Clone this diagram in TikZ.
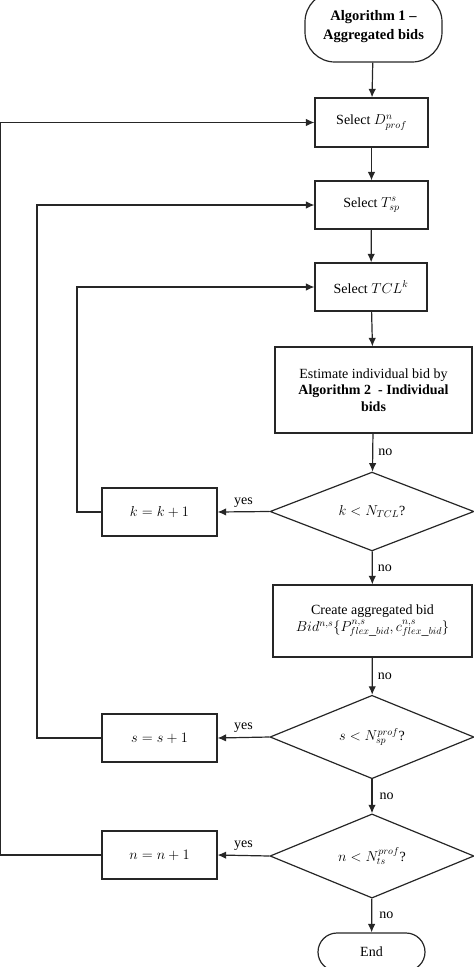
\documentclass[tikz,border=0pt]{standalone}
\usepackage{fontspec}
\setmainfont{Liberation Serif}
\usetikzlibrary{shapes.geometric,arrows.meta}
\begin{document}
\begin{tikzpicture}[x=1pt,y=-1pt,
  line width=1.2pt, draw=black!85,
  every node/.style={font=\fontsize{14}{16.5}\selectfont},
  box/.style={draw, rectangle, inner sep=2pt, align=center},
  term/.style={draw, rectangle, align=center, inner sep=2pt},
  dia/.style={draw, diamond, inner sep=0pt, minimum width=204pt},
  arr/.style={-{Latex[length=8.5pt,width=7.5pt]}},
  lbl/.style={inner sep=1pt, font=\fontsize{14}{16}\selectfont}
]
\useasboundingbox (0,0) rectangle (474,967);
% nodes
\node[term, rounded corners=30pt, minimum width=137pt, minimum height=70pt, font=\bfseries\fontsize{14.5}{19}\selectfont] (start) at (373.5,27) {Algorithm 1 --\\Aggregated bids};
\node[box, minimum width=113pt, minimum height=49pt] (d) at (371.5,122.5) {Select $D^{n}_{prof}$};
\node[box, minimum width=113pt, minimum height=48pt] (t) at (371.5,205) {Select $T^{s}_{sp}$};
\node[box, minimum width=112pt, minimum height=48pt] (tcl) at (371,287) {Select $TCL^{k}$};
\node[box, minimum width=197pt, minimum height=86pt] (est) at (373.5,390) {Estimate individual bid by\\\textbf{Algorithm 2 \ - Individual}\\\textbf{bids}};
\node[dia, minimum height=78pt] (kd) at (372,511.5) {$k < N_{TCL}$?};
\node[box, minimum width=115pt, minimum height=48pt] (kb) at (159.5,512) {$k = k + 1$};
\node[box, minimum width=199pt, minimum height=72pt] (agg) at (372.5,621) {Create aggregated bid\\$Bid^{n,s}\{P^{n,s}_{flex\_bid}, c^{n,s}_{flex\_bid}\}$};
\node[dia, minimum height=76pt] (sd) at (372,737) {$s < N^{prof}_{sp}$?};
\node[box, minimum width=115pt, minimum height=48pt] (sb) at (159.5,738) {$s = s + 1$};
\node[dia, minimum height=78pt] (nd) at (372,856) {$n < N^{prof}_{ts}$?};
\node[box, minimum width=115pt, minimum height=48pt] (nb) at (159.5,855) {$n = n + 1$};
\node[term, rounded corners=19pt, minimum width=107pt, minimum height=38pt] (end) at (371.5,952) {End};
% loop corner coordinates
\coordinate (kl) at (77,400);
\coordinate (sl) at (37,400);
\coordinate (nl) at (0.6,400);
% main flow
\draw[arr] (start) -- (d);
\draw[arr] (d) -- (t);
\draw[arr] (t) -- (tcl);
\draw[arr] (tcl) -- (est);
\draw[arr] (est) -- node[lbl, right, xshift=4pt] {no} (kd);
\draw[arr] (kd) -- node[lbl, right, xshift=4pt] {no} (agg);
\draw[arr] (agg) -- node[lbl, right, xshift=4pt] {no} (sd);
\draw[arr] (sd) -- node[lbl, right, xshift=6pt] {no} (nd);
\draw[arr] (nd) -- node[lbl, right, xshift=6pt] {no} (end);
% yes branches
\draw[arr] (kd.west) -- node[lbl, above, yshift=3pt] {yes} (kb.east);
\draw[arr] (sd.west) -- node[lbl, above, yshift=3pt] {yes} (sb.east);
\draw[arr] (nd.west) -- node[lbl, above, yshift=3pt] {yes} (nb.east);
% loops back
\draw[arr] (kb.west) -| (kl) |- (tcl.west);
\draw[arr] (sb.west) -| (sl) |- (t.west);
\draw[arr] (nb.west) -| (nl) |- (d.west);
\end{tikzpicture}
\end{document}
